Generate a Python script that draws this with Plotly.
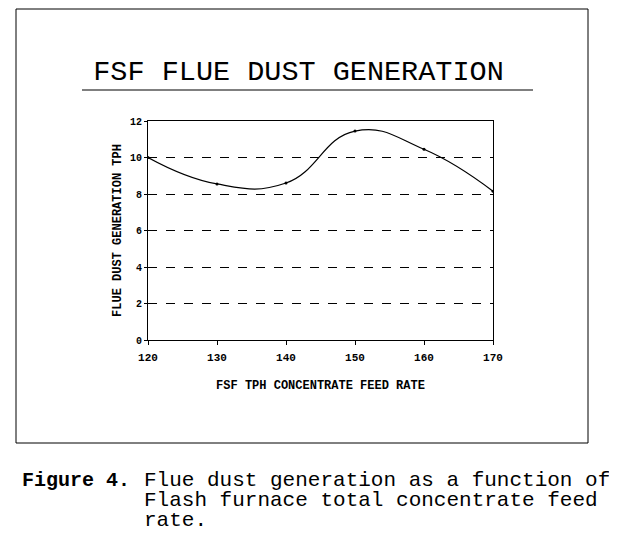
import plotly.graph_objects as go

feed_rate = [120, 130, 140, 150, 160, 170]
dust_tph = [10.0, 8.55, 8.6, 11.45, 10.45, 8.15]
x_ticks = [120, 130, 140, 150, 160, 170]
y_ticks = [0, 2, 4, 6, 8, 10, 12]

title_text = "FSF FLUE DUST GENERATION"
x_title = "FSF TPH CONCENTRATE FEED RATE"
y_title = "FLUE DUST GENERATION TPH"
cap_label = "Figure 4."
cap_lines = ["Flue dust generation as a function of",
             "Flash furnace total concentrate feed",
             "rate."]

OFF = 8  # browser body margin
W, H = 617 - OFF, 533 - OFF
L, R, T, B = 148 - OFF, 493 - OFF, 121 - OFF, 340 - OFF  # plot area in figure pixels
pw, ph = R - L, B - T

def px(x):
    return (x - OFF - L) / pw

def py(y):
    return (B - (y - OFF)) / ph

mono = "Liberation Mono, Courier New, monospace"

fig = go.Figure()
fig.add_trace(go.Scatter(
    x=feed_rate, y=dust_tph, mode="lines+markers",
    line=dict(color="black", width=1.2, shape="spline", smoothing=1.3),
    marker=dict(color="black", size=3),
    showlegend=False,
))

fig.update_layout(
    width=W, height=H,
    margin=dict(l=L, r=W - R, t=T, b=H - B),
    paper_bgcolor="white", plot_bgcolor="white",
    title=dict(text=title_text, x=(298.5 - OFF) / W, xanchor="center",
               y=1 - (70 - OFF) / H, yanchor="middle", yref="container",
               font=dict(family=mono, size=28.5, color="black")),
    xaxis=dict(range=[120, 170], tickvals=x_ticks, showgrid=False,
               showline=True, linecolor="black", linewidth=1, mirror=True,
               ticks="outside", ticklen=4, tickcolor="black",
               ticklabelstandoff=3,
               tickfont=dict(family=mono, size=11, color="black", weight="bold"),
               zeroline=False,
               title=dict(text=x_title, standoff=17,
                          font=dict(family=mono, size=12, color="black", weight="bold"))),
    yaxis=dict(range=[0, 12], tickvals=y_ticks, showgrid=True,
               gridcolor="black", gridwidth=1, griddash="dash",
               showline=True, linecolor="black", linewidth=1, mirror=True,
               ticks="outside", ticklen=3, tickcolor="black",
               tickfont=dict(family=mono, size=10, color="black", weight="bold"),
               zeroline=False,
               title=dict(text=y_title, standoff=5,
                          font=dict(family=mono, size=12, color="black", weight="bold"))),
)

# outer frame
fig.add_shape(type="rect", xref="paper", yref="paper",
              x0=px(16), x1=px(588), y0=py(443), y1=py(OFF + 1),
              line=dict(color="black", width=1))
# title underline
fig.add_shape(type="line", xref="paper", yref="paper",
              x0=px(82), x1=px(533), y0=py(90), y1=py(90),
              line=dict(color="black", width=1.2))

# caption
fig.add_annotation(text="<b>" + cap_label + "</b>", xref="paper", yref="paper",
                   x=px(20), y=py(480), xanchor="left", yanchor="middle",
                   height=20, valign="middle",
                   showarrow=False, font=dict(family=mono, size=20, color="black"))
for i, line in enumerate(cap_lines):
    fig.add_annotation(text=line, xref="paper", yref="paper",
                       x=px(142), y=py(480 + 20 * i), xanchor="left", yanchor="middle",
                       height=20, valign="middle",
                       showarrow=False, font=dict(family=mono, size=21, color="black"))

fig.write_html("out.html")
